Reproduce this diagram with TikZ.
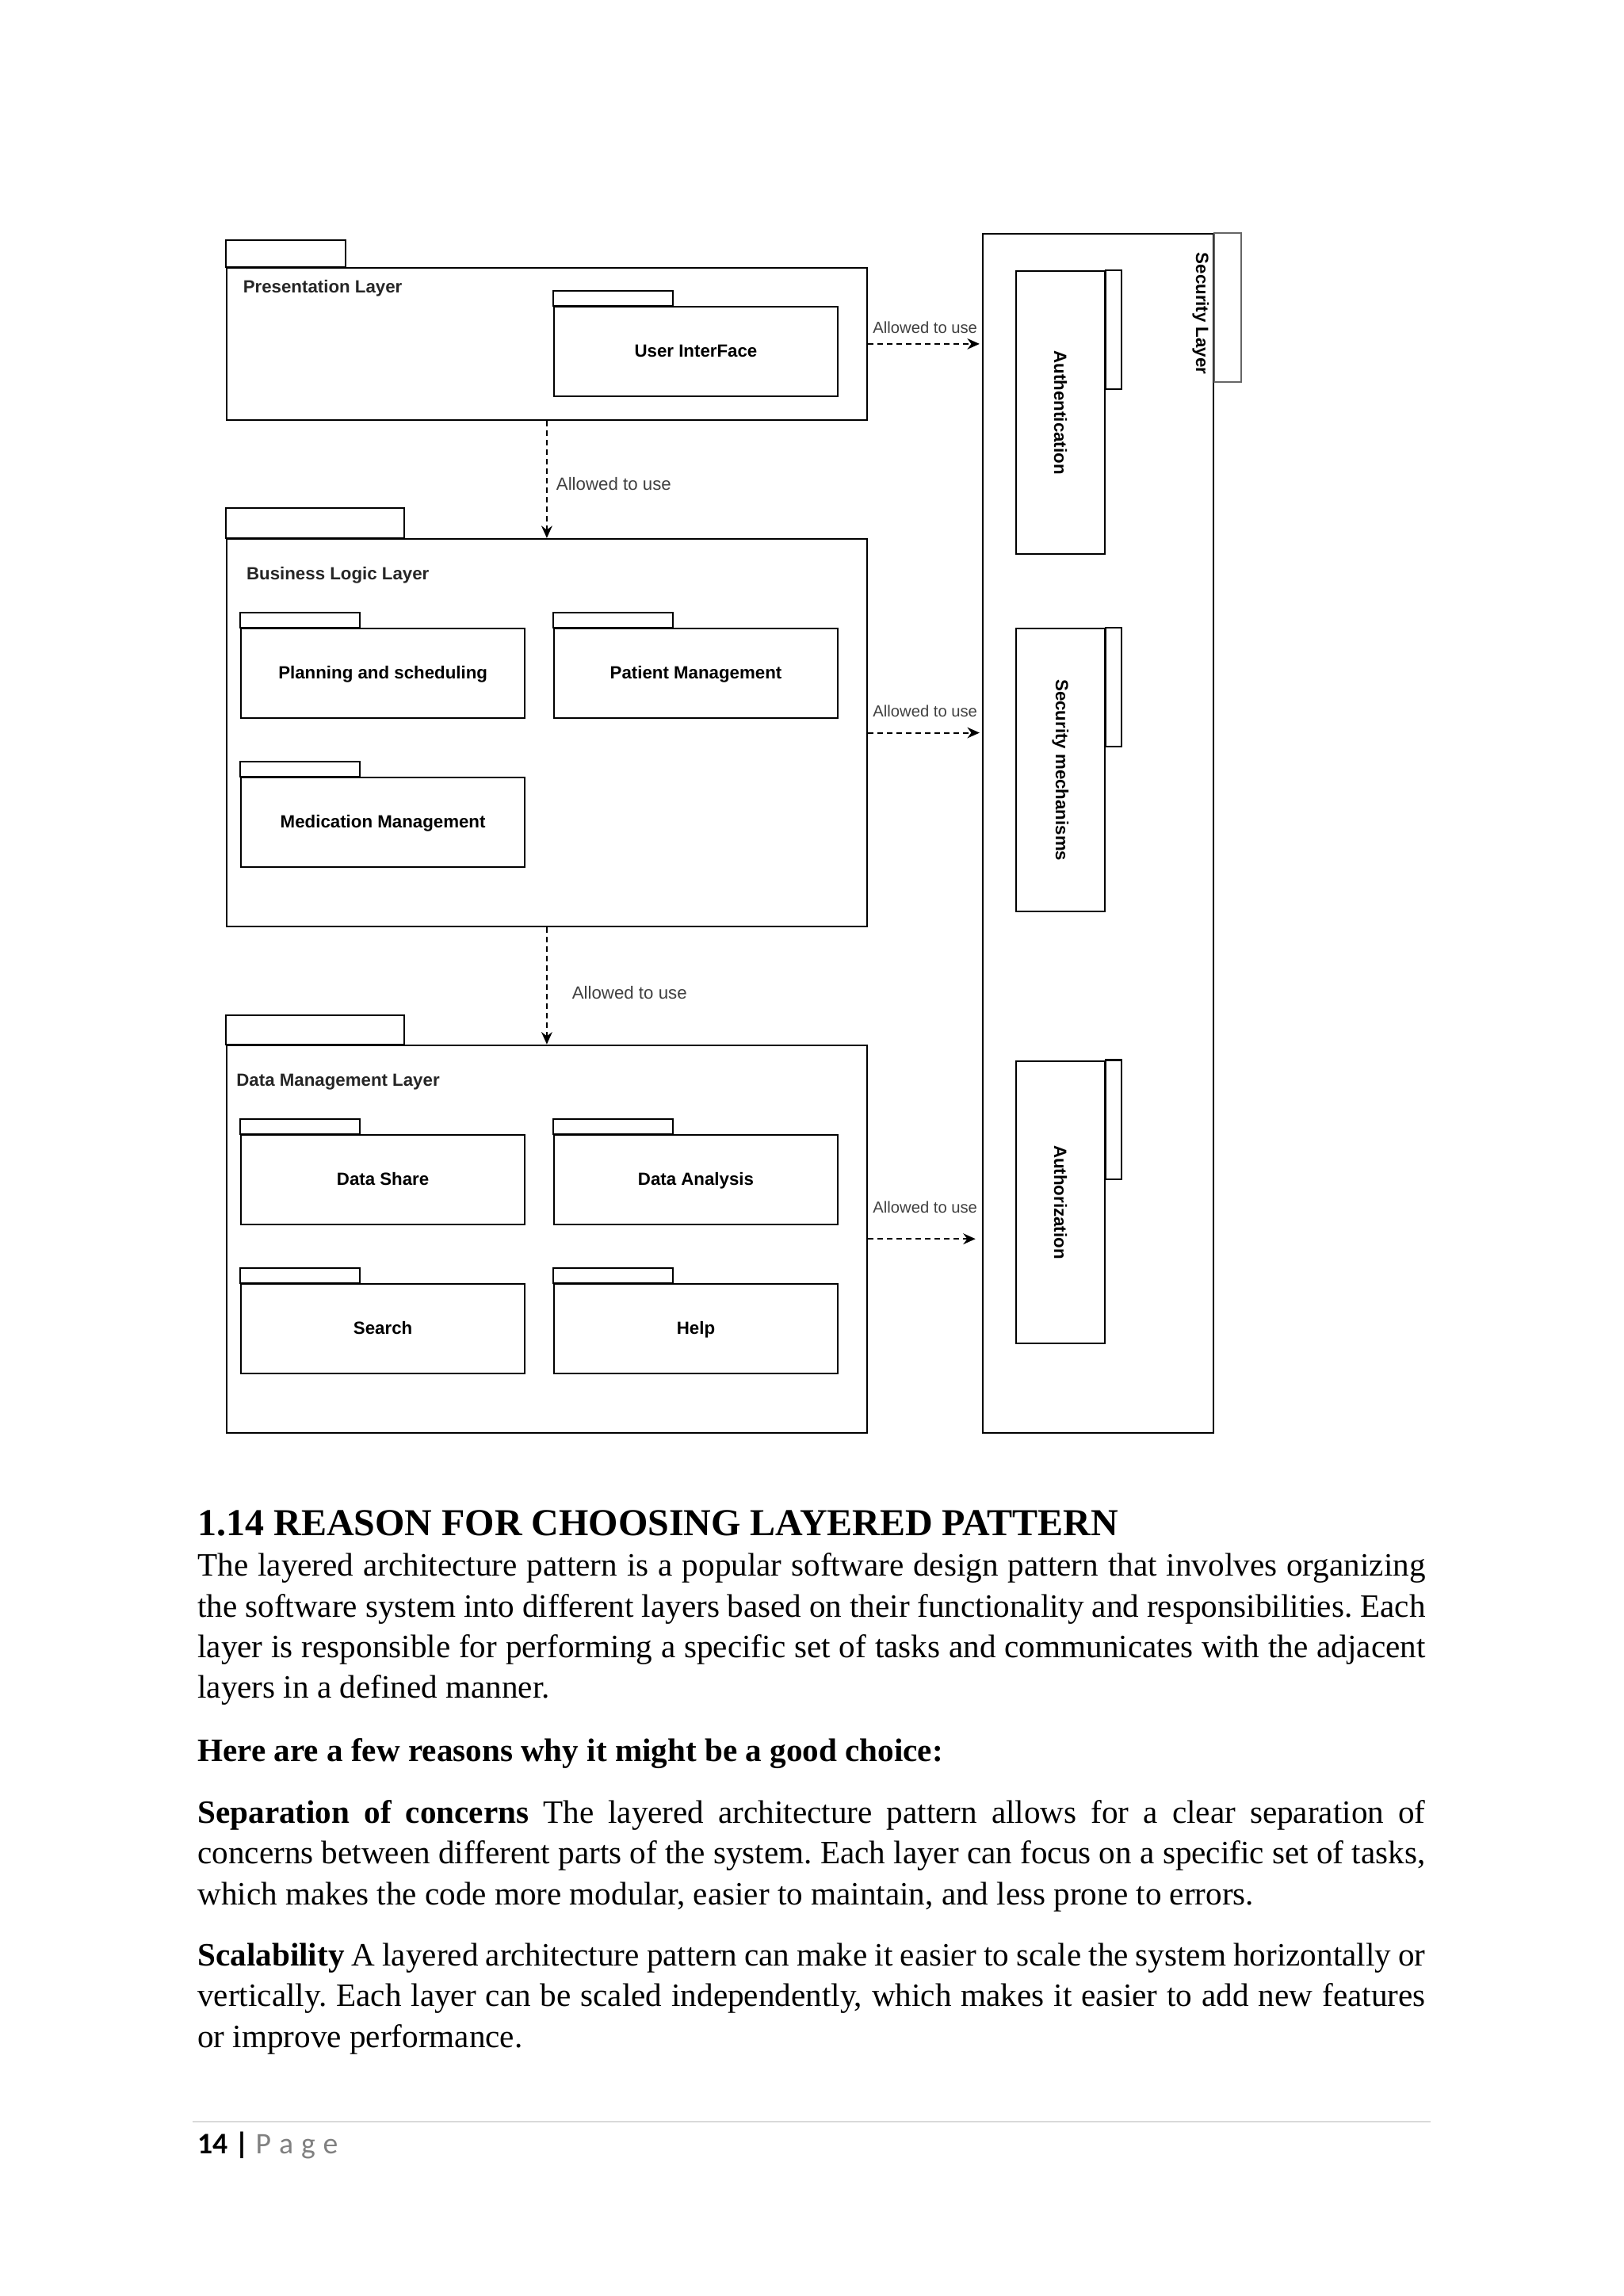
\documentclass[tikz,border=0pt]{standalone}
\usepackage{fontspec}
\usepackage{graphicx}
\setmainfont{Liberation Serif}
\newfontfamily\diagfont{Liberation Sans}
\newfontfamily\footfont{Carlito}
\usetikzlibrary{arrows.meta,calc}
\frenchspacing
\def\pkgtab(#1)(#2,#3){\draw[line width=0.6pt] (#1) rectangle ++(#2,#3);}

\tikzset{
  laybox/.style={draw, line width=0.6pt, minimum width=8.288cm, inner sep=0},
  pkg/.style={draw, line width=0.6pt, minimum width=3.666cm, minimum height=1.156cm, inner sep=0, text height=1.4ex, text depth=0.5ex, font=\diagfont\bfseries\fontsize{6.5}{8}\selectfont},
  vpkg/.style={pkg, text height=, text depth=, minimum width=1.154cm, minimum height=3.658cm},
  laytitle/.style={anchor=west, inner sep=0, text=black!85, font=\diagfont\bfseries\fontsize{6.5}{8}\selectfont},
  uses/.style={dash pattern=on 2pt off 1.5pt, line width=0.6pt, -{Stealth[length=4.5pt,width=4pt]}},
  usetext/.style={inner sep=0, text=black!75, font=\diagfont\fontsize{5.9}{7}\selectfont},
  vusetext/.style={usetext, anchor=west, font=\diagfont\fontsize{6.5}{8}\selectfont},
  bodytext/.style={anchor=base west, inner sep=0, text width=15.88cm, align=justify, font=\fontsize{12}{14.97}\selectfont},
}

\begin{document}
\begin{tikzpicture}
			%%%%% PAGE %%%%%
			\useasboundingbox (0, 0) rectangle (21, 29.7);
			
			%%%%% PRESENTATION %%%%%
			\node[laybox, minimum height=1.972cm] (pres) at (7.073, 25.251) {};
			\pkgtab(pres.north west)(1.548,0.343)
			\node[laytitle] (prestitle) at (3.138, 25.967) {Presentation Layer};
			\node[pkg] (ui) at (9.001, 25.151) {User InterFace};
			\pkgtab(ui.north west)(1.548,0.201)
			
			%%%%% BUSINESS LOGIC %%%%%
			\node[laybox, minimum height=5.016cm] (bus) at (7.073, 20.221) {};
			\pkgtab(bus.north west)(2.313,0.386)
			\node[laytitle] (bustitle) at (3.182, 22.255) {Business Logic Layer};
			\node[pkg] (plan) at (4.953, 20.988) {Planning and scheduling};
			\node[pkg] (patient) at (9.001, 20.988) {Patient Management};
			\node[pkg] (medic) at (4.953, 19.063) {Medication Management};
			
			%%%%% DATA MANAGEMENT %%%%%
			\node[laybox, minimum height=5.013cm] (data) at (7.073, 13.674) {};
			\pkgtab(data.north west)(2.313,0.380)
			\node[laytitle] (datatitle) at (3.052, 15.699) {Data Management Layer};
			\node[pkg] (share) at (4.953, 14.441) {Data Share};
			\node[pkg] (analysis) at (9.001, 14.441) {Data Analysis};
			\node[pkg] (search) at (4.953, 12.511) {Search};
			\node[pkg] (help) at (9.001, 12.511) {Help};
			
			\foreach \p in {plan, patient, medic, share, analysis, search, help}
				{\pkgtab(\p.north west)(1.544,0.195)}
			
			%%%%% SECURITY %%%%%
			\node[draw, line width=0.6pt, minimum width=2.984cm, minimum height=15.508cm, inner sep=0] (sec) at (14.208, 18.921) {};
			\draw[line width=0.6pt, draw=black!60] (sec.north east) rectangle ++(0.346, -1.932);
			\node[laytitle, anchor=center, text=black] (sectitle) at (15.531, 25.644) {\rotatebox{-90}{Security Layer}};
			\node[vpkg] (auth) at (13.717, 24.361) {\rotatebox{-90}{Authentication}};
			\node[vpkg] (secmech) at (13.717, 19.737) {\rotatebox{-90}{Security mechanisms}};
			\node[vpkg] (authz) at (13.717, 14.148) {\rotatebox{-90}{Authorization}};
			
			\foreach \p in {auth, secmech, authz}
				{\pkgtab(\p.north east)(0.198,-1.538)}
			
			%%%%% ALLOWED TO USE %%%%%
			\draw[uses] (pres.south) -- node[vusetext, xshift=3.2pt, yshift=-1.5pt] {Allowed to use} (bus.north);
			\draw[uses] (bus.south) -- node[vusetext, xshift=9pt, yshift=-2.5pt] {Allowed to use} (data.north);
			
			\draw[uses, shorten >=1pt] (pres.east) -- node[usetext, yshift=6pt] {Allowed to use} (pres.east -| sec.west);
			\draw[uses, shorten >=1pt] (bus.east) -- node[usetext, yshift=8pt] {Allowed to use} (bus.east -| sec.west);
			\draw[uses, shorten >=2.5pt] (data.east) -- node[usetext, yshift=11.6pt] {Allowed to use} (data.east -| sec.west);
			
			%%%%% TEXT %%%%%
			\node[anchor=base west, inner sep=0, font=\bfseries\fontsize{14}{16}\selectfont] (heading) at (2.55, 9.84) {1.14 REASON FOR CHOOSING LAYERED PATTERN};
			
			\node[bodytext] (intro) at (2.55, 9.311) {The layered architecture pattern is a popular software design pattern that involves organizing\linebreak the software system into different layers based on their functionality and responsibilities. Each\linebreak layer is responsible for performing a specific set of tasks and communicates with the adjacent\linebreak layers in a defined manner.};
			
			\node[bodytext] (reasons) at (2.55, 6.918) {\textbf{Here are a few reasons why it might be a good choice:}};
			
			\node[bodytext] (separation) at (2.55, 6.115) {\textbf{Separation of concerns} The layered architecture pattern allows for a clear separation of\linebreak concerns between different parts of the system. Each layer can focus on a specific set of tasks,\linebreak which makes the code more modular, easier to maintain, and less prone to errors.};
			
			\node[bodytext] (scalability) at (2.55, 4.269) {\textbf{Scalability} A layered architecture pattern can make it easier to scale the system horizontally or\linebreak vertically. Each layer can be scaled independently, which makes it easier to add new features\linebreak or improve performance.};
			
			%%%%% FOOTER %%%%%
			\draw[black!15, line width=0.6pt] (2.487, 2.252) -- (18.509, 2.252);
			\node[anchor=base west, inner sep=0, font=\footfont\fontsize{11}{13}\selectfont] (pagenum) at (2.55, 1.836) {\textbf{14 |} \textcolor{black!50}{P\hspace{2.9pt}a\hspace{2.9pt}g\hspace{2.9pt}e}};
			
			%%%%% END %%%%%
		\end{tikzpicture}
\end{document}
